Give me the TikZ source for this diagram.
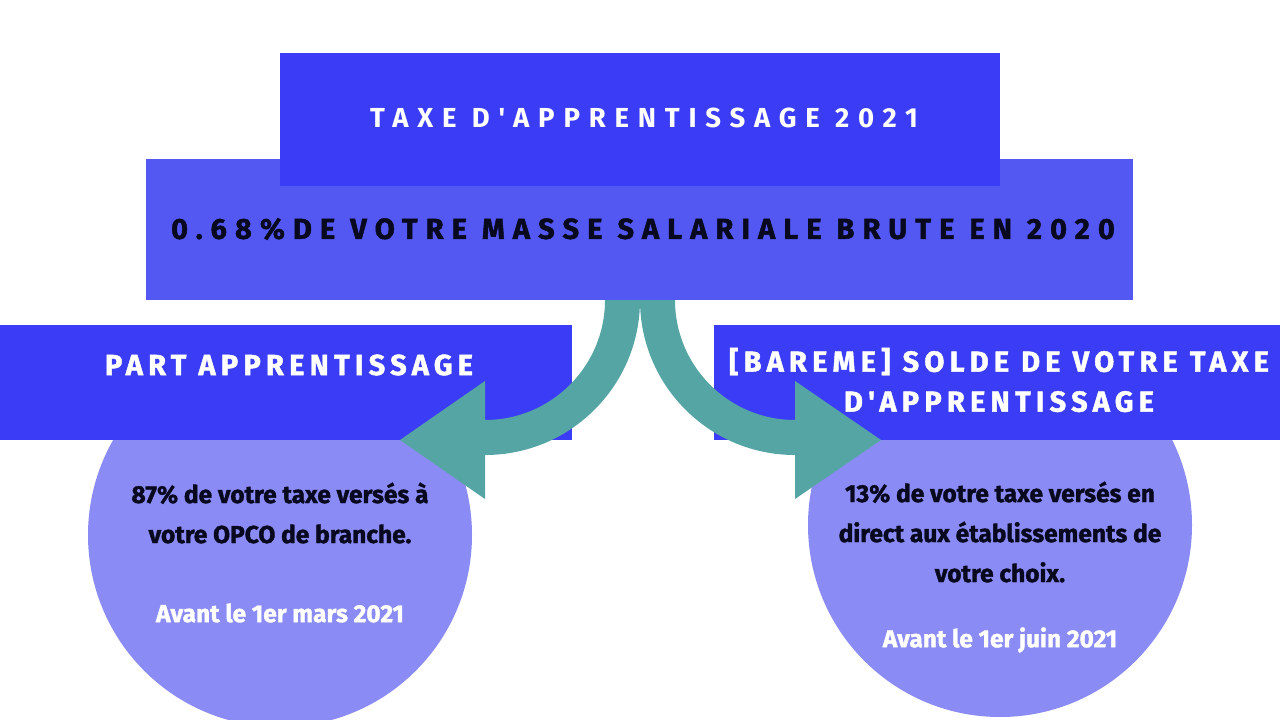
\documentclass[tikz,border=0pt]{standalone}
\usepackage{fontspec}
\setmainfont{Fira Sans}
\newfontfamily\titleA[LetterSpace=32]{Fira Sans}
\newfontfamily\titleB[LetterSpace=28,FakeBold=1.5]{Fira Sans}
\newfontfamily\headC[LetterSpace=18,FakeBold=1.5]{Fira Sans}
\newfontfamily\bodyD[FakeBold=1.5]{Fira Sans}
\definecolor{boxdark}{RGB}{58,61,245}
\definecolor{boxmid}{RGB}{84,88,243}
\definecolor{circ}{RGB}{139,139,245}
\definecolor{teal2}{RGB}{86,165,165}
\definecolor{inkdark}{RGB}{8,8,30}
\tikzset{
  panel/.style={fill=#1, draw=none},
  bubble/.style={circle, fill=circ, draw=none, minimum size=384pt, inner sep=0pt},
  curvearrow/.style={fill=teal2, draw=none},
  ttlA/.style={text=white, font=\titleA\bfseries\fontsize{27.5}{30}\selectfont, anchor=center, inner sep=0pt},
  ttlB/.style={text=inkdark, font=\titleB\bfseries\fontsize{29}{32}\selectfont, anchor=center, inner sep=0pt},
  hdC/.style={text=white, font=\headC\bfseries\fontsize{29}{40}\selectfont, align=center, anchor=center, inner sep=0pt},
  body/.style={font=\bodyD\bfseries\fontsize{24.5}{40}\selectfont, align=center, anchor=center, inner sep=0pt},
}
\begin{document}
\begin{tikzpicture}[x=1pt,y=-1pt]
\useasboundingbox[fill=white] (0,0) rectangle (1280,720);
% circles
\node[bubble] (cl) at (280,535) {};
\node[bubble] (cr) at (1000,525) {};
% side boxes
\fill[panel=boxdark] (0,325) rectangle (572,440);
\fill[panel=boxdark] (714,325) rectangle (1280,440);
% main boxes
\fill[panel=boxmid] (146,159) rectangle (1133,300);
\fill[panel=boxdark] (280,53) rectangle (1000,186);
% curved arrows
\coordinate (srcL) at (640,300);
\coordinate (srcR) at (640,300);
\fill[curvearrow] (srcL) arc[start angle=0,end angle=90,radius=155]
  -- (485,499) -- (400,440) -- (485,381) -- (485,420)
  arc[start angle=90,end angle=0,radius=120] -- cycle;
\fill[curvearrow] (srcR) arc[start angle=180,end angle=90,radius=155]
  -- (795,499) -- (881,440) -- (795,381) -- (795,420)
  arc[start angle=90,end angle=180,radius=120] -- cycle;
% texts
\node[ttlA] (t1) at (644,118) {TAXE D'APPRENTISSAGE 2021};
\node[ttlB] (t2) at (643,229) {0.68\%DE VOTRE MASSE SALARIALE BRUTE EN 2020};
\node[hdC] (h1) at (289,365) {PART APPRENTISSAGE};
\node[hdC] (h2) at (999,380) {[BAREME] SOLDE DE VOTRE TAXE\\D'APPRENTISSAGE};
\node[body, text=inkdark] (b1) at (280,513) {87\% de votre taxe versés à\\votre OPCO de branche.};
\node[body, text=white] (d1) at (280,613) {Avant le 1er mars 2021};
\node[body, text=inkdark] (b2) at (1000,532) {13\% de votre taxe versés en\\direct aux établissements de\\votre choix.};
\node[body, text=white] (d2) at (1000,640) {Avant le 1er juin 2021};
\end{tikzpicture}
\end{document}
